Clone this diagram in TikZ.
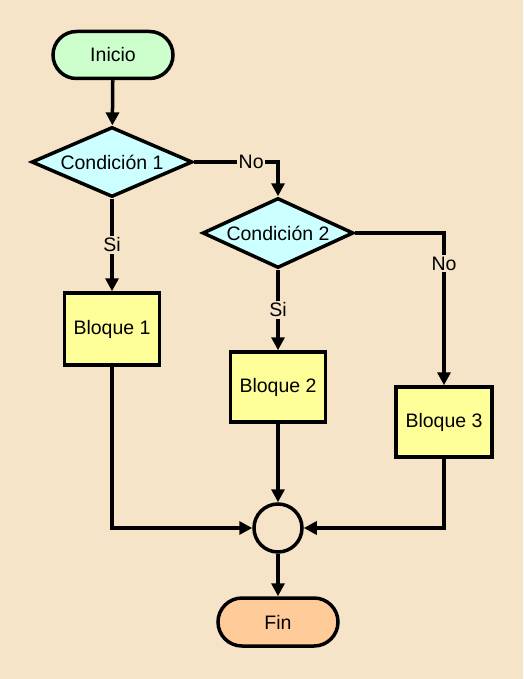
\documentclass[tikz,border=0pt]{standalone}
\usepackage{fontspec}
\setmainfont{Liberation Sans}
\usetikzlibrary{shapes.geometric,shapes.misc,arrows.meta}
\definecolor{bg}{HTML}{F5E4C8}
\definecolor{termgreen}{HTML}{CCFFCC}
\definecolor{condcyan}{HTML}{CCFFFF}
\definecolor{blockyellow}{HTML}{FFFF99}
\definecolor{endorange}{HTML}{FFCC99}
\begin{document}
\begin{tikzpicture}[x=1pt,y=-1pt,
  every node/.style={font=\fontsize{19.5}{22}\selectfont, text=black},
  term/.style={rounded rectangle, draw, line width=3.5pt, minimum width=120pt, minimum height=47pt, inner sep=0pt},
  cond/.style={diamond, aspect=2.3, draw, line width=3.5pt, fill=condcyan, inner sep=0pt, minimum width=160pt, minimum height=70pt},
  block/.style={rectangle, draw, line width=3.5pt, fill=blockyellow, minimum width=95pt, minimum height=72pt, inner sep=0pt},
  junct/.style={circle, draw, line width=3.5pt, fill=bg, minimum size=48pt, inner sep=0pt},
  conn/.style={line width=3.5pt, -{Triangle[length=13pt,width=13pt]}},
  lbl/.style={fill=bg, inner sep=1.5pt}
]
\fill[bg] (0,0) rectangle (523,679);
\useasboundingbox (0,0) rectangle (523,679);

\node[term, fill=termgreen] (ini) at (113,55) {Inicio};
\node[cond, minimum width=161pt] (c1) at (112,162) {Condición 1};
\node[cond, minimum width=151pt, aspect=2.15] (c2) at (278,233) {Condición 2};
\node[block] (b1) at (112,329) {Bloque 1};
\node[block, minimum height=70pt] (b2) at (278,387) {Bloque 2};
\node[block, minimum height=70pt, minimum width=96pt] (b3) at (444,422) {Bloque 3};
\node[junct] (j) at (278,528) {};
\node[term, fill=endorange, minimum height=48pt] (fin) at (278,622) {Fin};

\draw[conn] (ini) -- (c1);
\draw[conn] (c1.east) -| node[lbl, pos=0.34] {No} (c2.north);
\draw[conn] (c1.south) -- node[lbl] {Si} (b1.north);
\draw[conn] (c2.south) -- node[lbl] {Si} (b2.north);
\draw[conn] (c2.east) -| node[lbl, pos=0.6] {No} (b3.north);
\draw[conn] (b1.south) |- (j.west);
\draw[conn] (b2.south) -- (j.north);
\draw[conn] (b3.south) |- (j.east);
\draw[conn] (j.south) -- (fin.north);
\end{tikzpicture}
\end{document}
